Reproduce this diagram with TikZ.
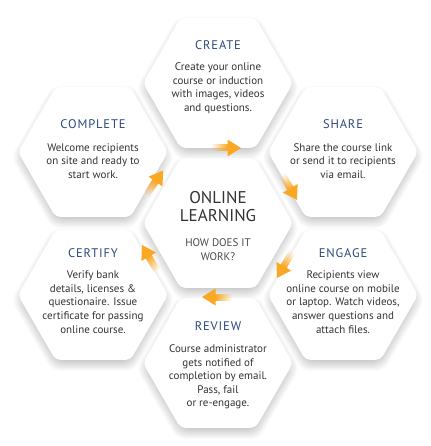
\documentclass[tikz,border=0pt]{standalone}
\usepackage{fontspec}
\setmainfont{PT Sans}
\newfontfamily\titlefont[LetterSpace=7]{PT Sans}
\usetikzlibrary{shapes.geometric,fadings}
\definecolor{navy}{HTML}{2D4A7C}
\definecolor{bodyc}{HTML}{333333}
\definecolor{centc}{HTML}{333333}
\definecolor{subc}{HTML}{4A4A4A}
\definecolor{arr}{HTML}{F9A823}
\tikzset{
 hexa/.style={regular polygon, regular polygon sides=6, minimum size=150pt, inner sep=0pt,
   fill=white, rounded corners=5pt},
 shadowlayer/.style={fill=black, opacity=0.016, rounded corners=8pt},
 ttl/.style={font=\titlefont\fontsize{12.5}{14}\selectfont, text=navy, inner sep=0pt},
 bodytxt/.style={font=\fontsize{11}{13.6}\selectfont, text=bodyc, align=center, inner sep=0pt},
}
\newcommand\hexshadow[2]{%
 \begin{scope}[shift={(#1,#2+5)}]
  \foreach \k in {0,...,16}{
   \pgfmathsetmacro\r{66+\k}
   \fill[shadowlayer] (0:\r) -- (60:\r) -- (120:\r) -- (180:\r) -- (240:\r) -- (300:\r) -- cycle;
  }
 \end{scope}}
\newcommand\orarrow[4]{%
 \begin{scope}[transform canvas={shift={(#2,#3)}, rotate=#4}]
  \fill[arr, path fading=west] (0,-3.5) rectangle (17,3.5);
  \fill[arr] (16.5,-8.5) -- (30,0) -- (16.5,8.5) -- cycle;
  \coordinate (#1) at (30,0);
 \end{scope}}
\begin{document}
\begin{tikzpicture}[x=1pt,y=-1pt]
\useasboundingbox (0,0) rectangle (430,446);
\fill[white] (0,0) rectangle (430,446);
% shadows
\hexshadow{218}{223}
\hexshadow{218}{83}
\hexshadow{343}{152}
\hexshadow{343}{295}
\hexshadow{218}{363}
\hexshadow{93}{295}
\hexshadow{93}{152}
% hexagons
\node[hexa] (hcenter) at (218,223) {};
\node[hexa] (hcreate) at (218,83) {};
\node[hexa] (hshare) at (343,152) {};
\node[hexa] (hengage) at (343,295) {};
\node[hexa] (hreview) at (218,363) {};
\node[hexa] (hcertify) at (93,295) {};
\node[hexa] (hcomplete) at (93,152) {};
% texts
\node[ttl] (tcreate) at (218,45) {CREATE};
\node[bodytxt] (bcreate) at (218,88) {Create your online\\course or induction\\with images, videos\\and questions.};
\node[ttl] (tshare) at (343,124) {SHARE};
\node[bodytxt] (bshare) at (343,161) {Share the course link\\or send it to recipients\\via email.};
\node[ttl] (tcomplete) at (93,124) {COMPLETE};
\node[bodytxt] (bcomplete) at (93,161) {Welcome recipients\\on site and ready to\\start work.};
\node[ttl] (tcertify) at (93,253) {CERTIFY};
\node[bodytxt] (bcertify) at (93,302) {Verify bank\\details, licenses \&\\questionaire. Issue\\certificate for passing\\online course.};
\node[ttl] (tengage) at (343,253) {ENGAGE};
\node[bodytxt] (bengage) at (343,302) {Recipients view\\online course on mobile\\or laptop. Watch videos,\\answer questions and\\attach files.};
\node[ttl] (treview) at (218,326) {REVIEW};
\node[bodytxt] (breview) at (218,377) {Course administrator\\gets notified of\\completion by email.\\Pass, fail\\or re-engage.};
\node[font=\fontsize{17}{18}\selectfont, text=centc, align=center, inner sep=0pt] (tonline) at (218,207) {ONLINE\\LEARNING};
\node[font=\fontsize{11}{14}\selectfont, text=subc, align=center, inner sep=0pt] (thow) at (218,250) {HOW DOES IT\\WORK?};
% arrows
\orarrow{a1}{211}{148}{0}
\orarrow{a2}{282}{174}{-60}
\orarrow{a3}{292}{252}{-120}
\orarrow{a4}{232}{297}{180}
\orarrow{a5}{157}{271}{120}
\orarrow{a6}{146}{195}{55}
\end{tikzpicture}
\end{document}
